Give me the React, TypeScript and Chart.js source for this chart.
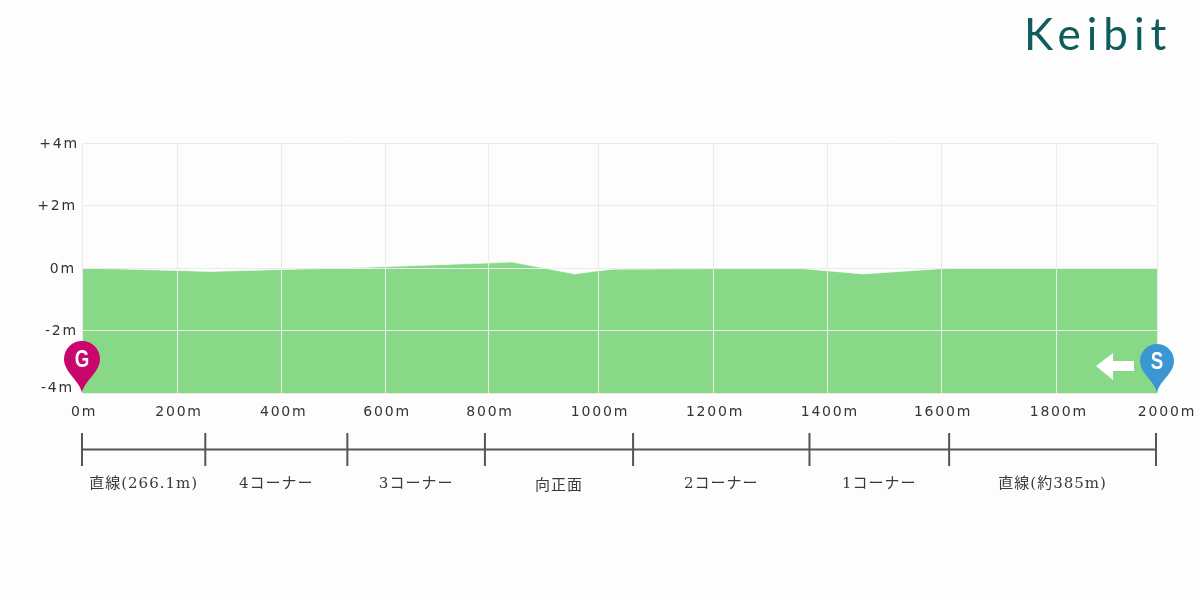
import {useEffect, useRef} from "react";
import {Chart, LinearScale, registerables} from "chart.js";

const distances = [0, 200, 263, 400, 527, 800, 844, 958, 1000, 1026, 1200, 1358, 1461, 1600, 1800, 2000];
const elevations = [0, -0.08, -0.11, -0.05, 0, 0.16, 0.19, -0.19, -0.09, -0.04, -0.02, -0.02, -0.19, -0.02, 0, -0.01];

const xTicks = [0, 200, 400, 600, 800, 1000, 1200, 1400, 1600, 1800, 2000];
const yTicks = [-4, -2, 0, 2, 4];

// the track is not drawn to scale: where each tick sits along the axis (0 to 1)
const xTickStops = [0, 0.0884, 0.1858, 0.2819, 0.3777, 0.48, 0.587, 0.6938, 0.7991, 0.9068, 1];

const sectionBounds = [0, 254, 527, 794, 1061, 1368, 1614, 1998];
const sectionNames = ["直線(266.1m)", "4コーナー", "3コーナー", "向正面", "2コーナー", "1コーナー", "直線(約385m)"];

// the reference sets a few tick labels off their ticks
const yLabelShift = [-5, -1, -3, -2, 0];

const nudgeLabels = (items: any[], dx: (i: number) => number, dy: (i: number) => number) => {
  items.forEach((item, i) => {
    item.options.translation[0] += dx(i);
    item.options.translation[1] += dy(i);
  });
  return items;
};

// linear scale that goes through xTickStops piece by piece
class TrackScale extends LinearScale {
  static id = "track";
  static defaults = LinearScale.defaults;

  getPixelForValue(value: number) {
    const i = Math.min(Math.max(Math.floor(value / 200), 0), xTicks.length - 2);
    const t = (value - xTicks[i]) / 200;
    return this.getPixelForDecimal(xTickStops[i] + (xTickStops[i + 1] - xTickStops[i]) * t);
  }

  _computeLabelItems(area: any) {
    const items = (LinearScale.prototype as any)._computeLabelItems.call(this, area);
    return nudgeLabels(items, (i) => (i === items.length - 1 ? 10 : 2), () => 0);
  }
}

class HeightScale extends LinearScale {
  static id = "height";
  static defaults = LinearScale.defaults;

  _computeLabelItems(area: any) {
    const items = (LinearScale.prototype as any)._computeLabelItems.call(this, area);
    return nudgeLabels(items, (i) => yLabelShift[i], (i) => (i === 0 ? -5 : 1));
  }
}

Chart.register(...registerables, TrackScale, HeightScale);

const drawPin = (ctx: any, x: number, tip: number, r: number, drop: number, color: string, letter: string) => {
  const cy = tip - drop;
  ctx.fillStyle = color;
  ctx.beginPath();
  ctx.moveTo(x, tip);
  ctx.bezierCurveTo(x - 2, tip - 12, x - r, cy + r * 0.75, x - r, cy);
  ctx.arc(x, cy, r, Math.PI, 0);
  ctx.bezierCurveTo(x + r, cy + r * 0.75, x + 2, tip - 12, x, tip);
  ctx.fill();
  ctx.save();
  ctx.translate(x, cy + 2);
  ctx.scale(0.85, 1.05);
  ctx.fillStyle = "#fff";
  ctx.font = "bold 22px 'Liberation Sans'";
  ctx.textAlign = "center";
  ctx.textBaseline = "middle";
  ctx.fillText(letter, 0, 0);
  ctx.restore();
};

const decoration = {
  id: "decoration",
  beforeDraw(chart: any) {
    chart.ctx.letterSpacing = "1.8px";
  },
  afterDraw(chart: any) {
    const ctx = chart.ctx;
    const x = chart.scales.x;
    const area = chart.chartArea;
    ctx.save();

    // course sections under the axis
    const px = sectionBounds.map((d) => x.getPixelForValue(d));
    ctx.strokeStyle = "#555";
    ctx.lineWidth = 2;
    ctx.beginPath();
    ctx.moveTo(px[0], 449.5);
    ctx.lineTo(px[px.length - 1], 449.5);
    px.forEach((p) => {
      ctx.moveTo(p, 433);
      ctx.lineTo(p, 466);
    });
    ctx.stroke();

    ctx.letterSpacing = "1px";
    ctx.fillStyle = "#3a3a3a";
    ctx.font = "15px 'DejaVu Serif', 'Noto Sans CJK JP'";
    ctx.textAlign = "center";
    ctx.textBaseline = "middle";
    sectionNames.forEach((name, i) => {
      ctx.fillText(name, (px[i] + px[i + 1]) / 2, name === "向正面" ? 486 : 484);
    });

    // direction arrow
    ctx.fillStyle = "#fff";
    ctx.beginPath();
    ctx.moveTo(1096, 366);
    ctx.lineTo(1113, 353);
    ctx.lineTo(1113, 361);
    ctx.lineTo(1134, 361);
    ctx.lineTo(1134, 371);
    ctx.lineTo(1113, 371);
    ctx.lineTo(1113, 380);
    ctx.closePath();
    ctx.fill();

    ctx.letterSpacing = "0px";
    drawPin(ctx, x.getPixelForValue(0), area.bottom, 18, 34, "#c9066b", "G");
    drawPin(ctx, x.getPixelForValue(2000), area.bottom, 17, 32, "#3a97d3", "S");

    ctx.letterSpacing = "6px";
    ctx.fillStyle = "#0f5c5c";
    ctx.font = "44px Lato";
    ctx.textAlign = "left";
    ctx.textBaseline = "alphabetic";
    ctx.fillText("Keibit", 1024, 50);
    ctx.restore();
  },
};

export default function App() {
  const canvas = useRef<HTMLCanvasElement | null>(null);

  useEffect(() => {
    const chart = new Chart(canvas.current as HTMLCanvasElement, {
      type: "line",
      data: {
        datasets: [{
          data: distances.map((d, i) => ({x: d, y: elevations[i]})),
          backgroundColor: "#87d887",
          borderColor: "rgba(255,255,255,0.6)",
          borderWidth: 1,
          pointRadius: 0,
          fill: "start",
        }],
      },
      options: {
        responsive: false,
        animation: false,
        devicePixelRatio: 1,
        layout: {padding: {top: 143, right: 43, bottom: 0, left: 0}},
        plugins: {legend: {display: false}, tooltip: {enabled: false}},
        scales: {
          x: {
            type: "track",
            min: 0,
            max: 2000,
            afterBuildTicks: (scale: any) => {
              scale.ticks = xTicks.map((value) => ({value}));
            },
            afterFit: (scale: any) => {
              scale.height = 207;
            },
            grid: {color: "#ebebeb", z: 1, drawTicks: false},
            border: {color: "#ebebeb", z: 1},
            ticks: {
              autoSkip: false,
              maxRotation: 0,
              padding: 11,
              color: "#333",
              font: {family: "'DejaVu Sans'", size: 14},
              callback: (v: any) => `${v}m`,
            },
          },
          y: {
            type: "height",
            min: -4,
            max: 4,
            afterBuildTicks: (scale: any) => {
              scale.ticks = yTicks.map((value) => ({value}));
            },
            afterFit: (scale: any) => {
              scale.width = 82;
            },
            grid: {color: "#ebebeb", z: 1, drawTicks: false},
            border: {color: "#ebebeb", z: 1},
            ticks: {
              padding: 3,
              color: "#333",
              font: {family: "'DejaVu Sans'", size: 14},
              callback: (v: any) => (v > 0 ? `+${v}m` : `${v}m`),
            },
          },
        },
      },
      plugins: [decoration],
    } as any);
    return () => {
      chart.destroy();
    };
  }, []);

  return <div style={{position: "fixed", left: 0, top: 0, width: 1200, height: 600, background: "#fdfdfd"}}>
    <canvas ref={canvas} width={1200} height={600}></canvas>
  </div>;
}
